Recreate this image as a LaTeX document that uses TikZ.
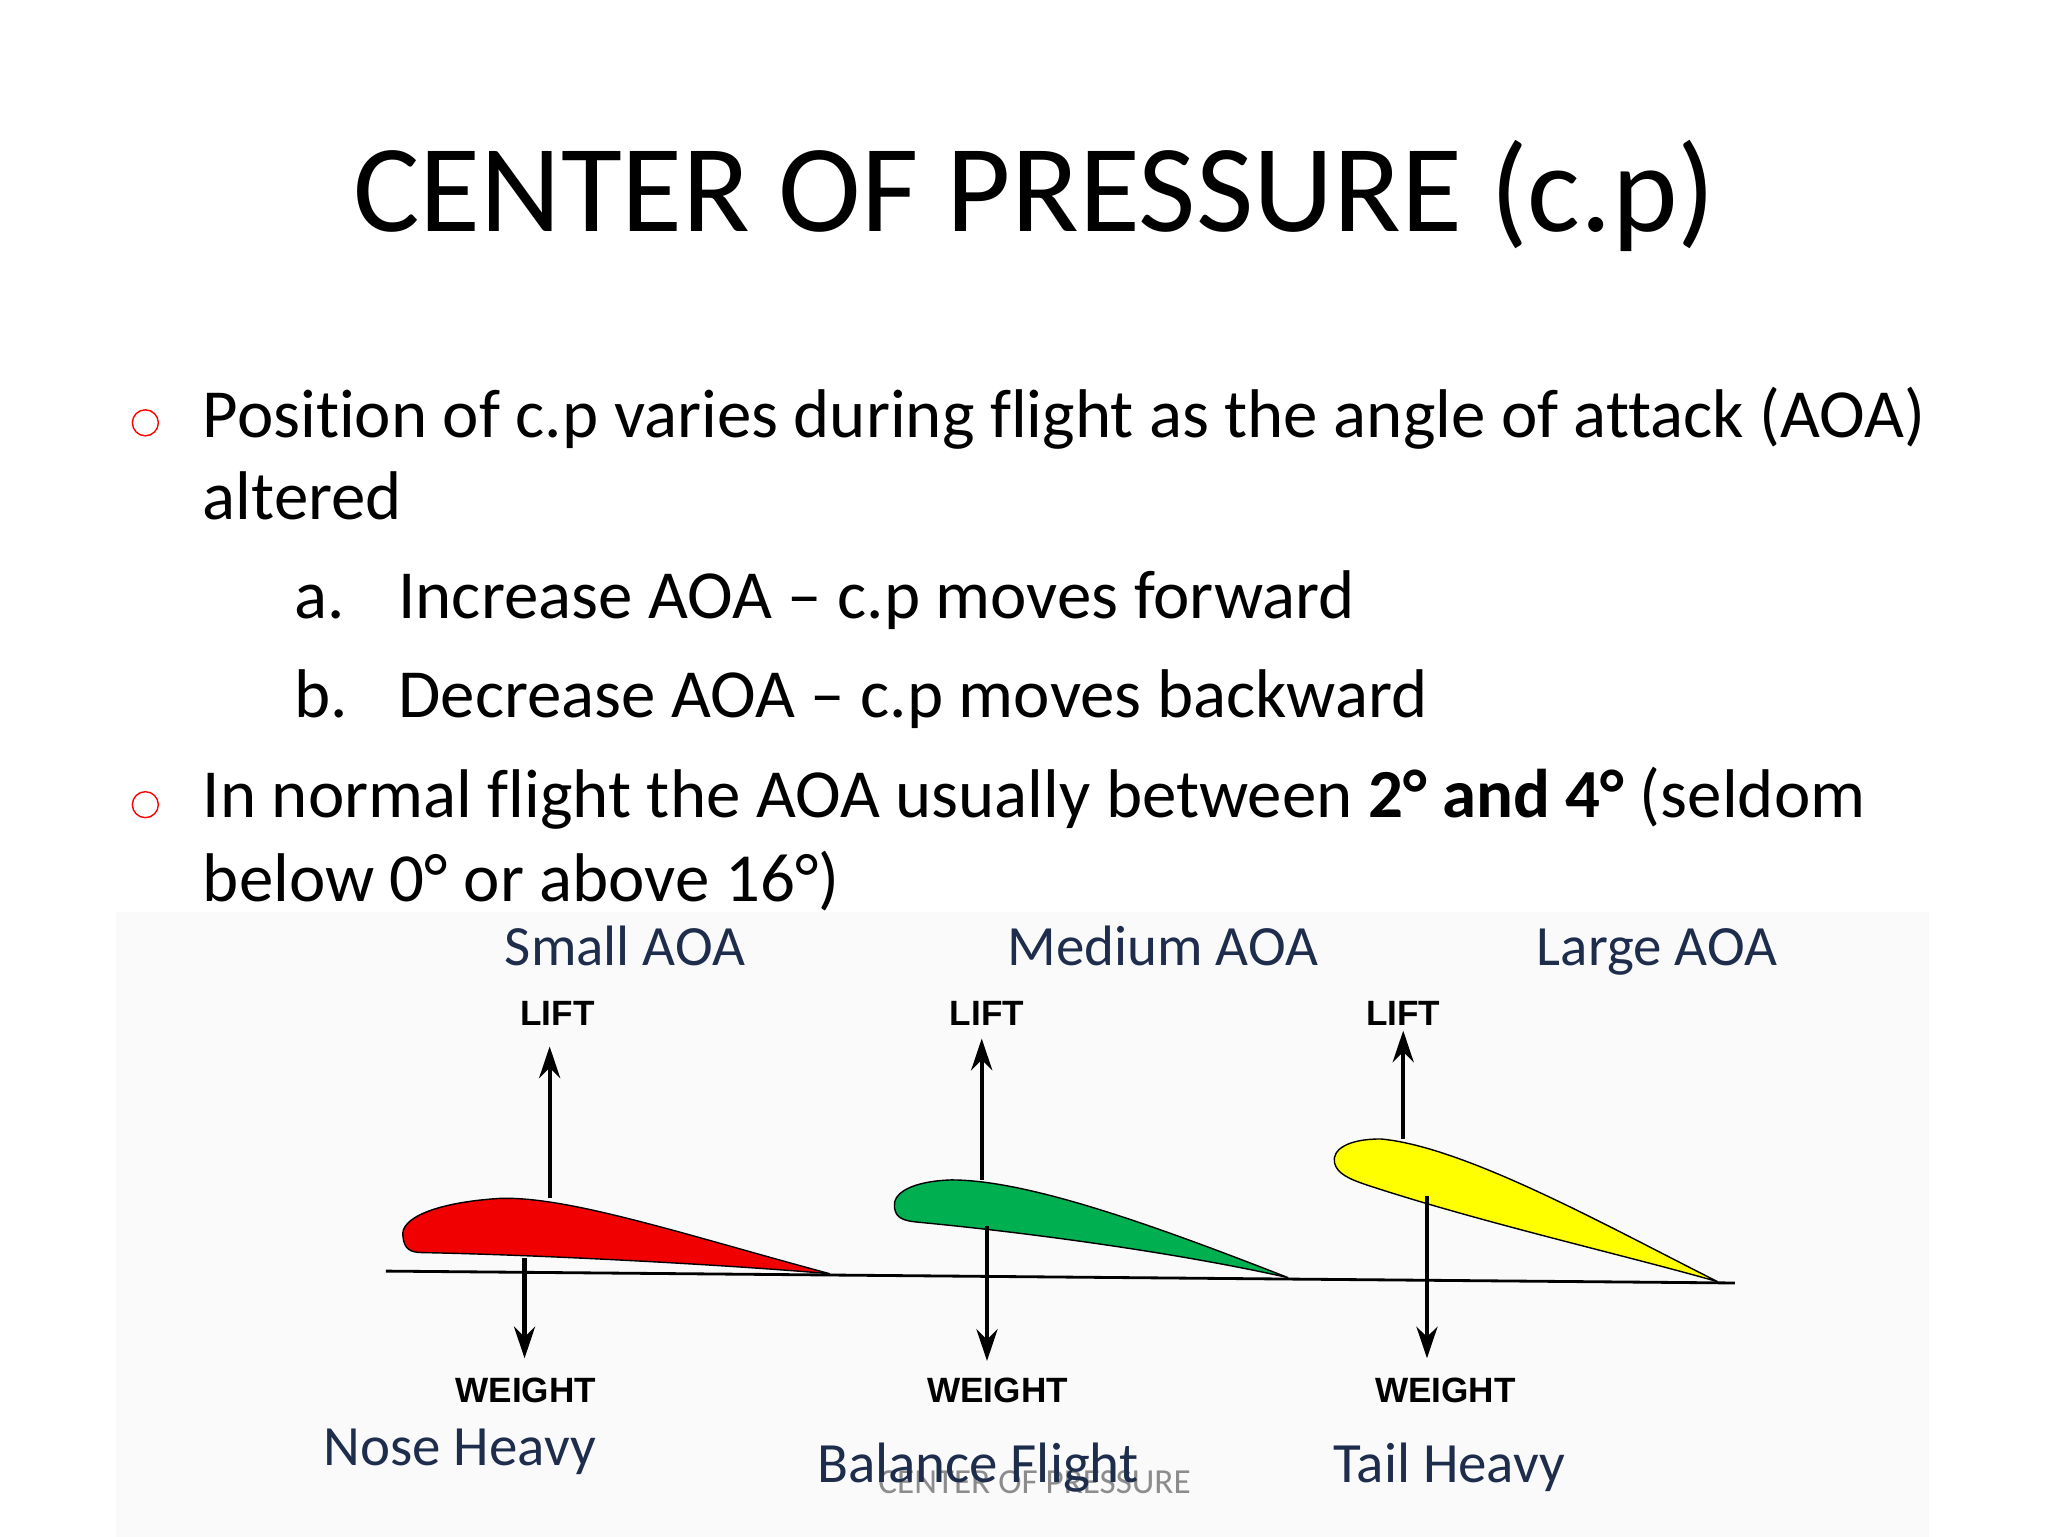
\documentclass[tikz,border=0pt]{standalone}
\usepackage{fontspec}
\setmainfont{Carlito}[Ligatures=NoCommon]
\newfontfamily\labfont{Liberation Sans}
\usetikzlibrary{arrows.meta}
\definecolor{navy}{HTML}{1F2D4D}
\definecolor{wingred}{HTML}{F00000}
\definecolor{winggreen}{HTML}{00B050}
\definecolor{wingyellow}{HTML}{FFFF00}

\begin{document}
\begin{tikzpicture}[x=0.01321cm,y=-0.01321cm,
    body/.style={anchor=base west,inner sep=0pt,font=\fontsize{19.6}{23}\selectfont},
    bull/.style={circle,draw=red,thin,inner sep=0pt,minimum size=0.26cm},
    aoa/.style={anchor=base,text=navy,font=\fontsize{16.2}{19}\selectfont},
    force/.style={font=\labfont\bfseries\fontsize{10}{12}\selectfont},
    vec/.style={very thick,-{Stealth[length=9pt,width=6pt]}},
    wing/.style={draw=black,thin}]
\useasboundingbox (0,0) rectangle (1550,1163);
\fill[black!2] (88,690) rectangle (1460,1163);

\node (title) at (783,148) {\fontsize{35.5}{40}\selectfont CENTER OF PRESSURE (c.p)};

\node[bull] (b1) at (110,320) {};
\node[body] (t1) at (153,331) {Position of c.p varies during flight as the angle of attack (AOA)};
\node[body] (t2) at (153,393) {altered};
\node[body] (a1) at (222,468) {a.};
\node[body] (a2) at (301,468) {Increase AOA -- c.p moves forward};
\node[body] (b1l) at (222,543) {b.};
\node[body] (b2) at (301,543) {Decrease AOA -- c.p moves backward};
\node[bull] (b2b) at (110,609) {};
\node[body] (t3) at (153,619) {In normal flight the AOA usually between \textbf{2\textdegree\ and 4\textdegree} (seldom};
\node[body] (t4) at (153,682) {below 0\textdegree\ or above 16\textdegree)};

% airfoils
\draw[wing,fill=wingred] (628,964) .. controls (520,935) and (430,905) .. (378,907)
    .. controls (330,910) and (302,922) .. (305,936) .. controls (306,945) and (310,948) .. (320,948)
    .. controls (420,950) and (560,958) .. (628,964);
\draw[wing,fill=winggreen] (975,967) .. controls (880,930) and (780,893) .. (720,893)
    .. controls (690,894) and (675,903) .. (677,914) .. controls (678,922) and (684,924) .. (695,925)
    .. controls (790,934) and (900,950) .. (975,967);
\draw[wing,fill=wingyellow] (1300,970) .. controls (1220,930) and (1110,868) .. (1045,862)
    .. controls (1020,862) and (1008,870) .. (1010,880) .. controls (1012,888) and (1020,892) .. (1035,897)
    .. controls (1120,925) and (1230,950) .. (1300,970);

\coordinate (chordL) at (292,962);
\coordinate (chordR) at (1313,971);
\draw[thick] (chordL) -- (chordR);

% forces
\coordinate (rL0) at (416,907);
\coordinate (rL1) at (416,792);
\coordinate (rW0) at (397,952);
\coordinate (rW1) at (397,1028);
\coordinate (gL0) at (743,893);
\coordinate (gL1) at (743,786);
\coordinate (gW0) at (747,928);
\coordinate (gW1) at (747,1030);
\coordinate (yL0) at (1062,862);
\coordinate (yL1) at (1062,780);
\coordinate (yW0) at (1080,905);
\coordinate (yW1) at (1080,1028);
\draw[vec] (rL0) -- (rL1);
\draw[vec] (rW0) -- (rW1);
\draw[vec] (gL0) -- (gL1);
\draw[vec] (gW0) -- (gW1);
\draw[vec] (yL0) -- (yL1);
\draw[vec] (yW0) -- (yW1);

\node[force] (liftR) at (422,767) {LIFT};
\node[force] (liftG) at (747,767) {LIFT};
\node[force] (liftY) at (1062,767) {LIFT};
\node[force] (wtR) at (398,1052) {WEIGHT};
\node[force] (wtG) at (755,1052) {WEIGHT};
\node[force] (wtY) at (1094,1052) {WEIGHT};

\node[aoa] (small) at (473,731) {Small AOA};
\node[aoa] (medium) at (880,731) {Medium AOA};
\node[aoa] (large) at (1254,731) {Large AOA};

\node[text=black!45,font=\fontsize{10}{12}\selectfont] (foot) at (783,1122) {CENTER OF PRESSURE};
\node[aoa] (nose) at (348,1109) {Nose Heavy};
\node[aoa] (bal) at (740,1122) {Balance Flight};
\node[aoa] (tail) at (1097,1122) {Tail Heavy};
\end{tikzpicture}
\end{document}
